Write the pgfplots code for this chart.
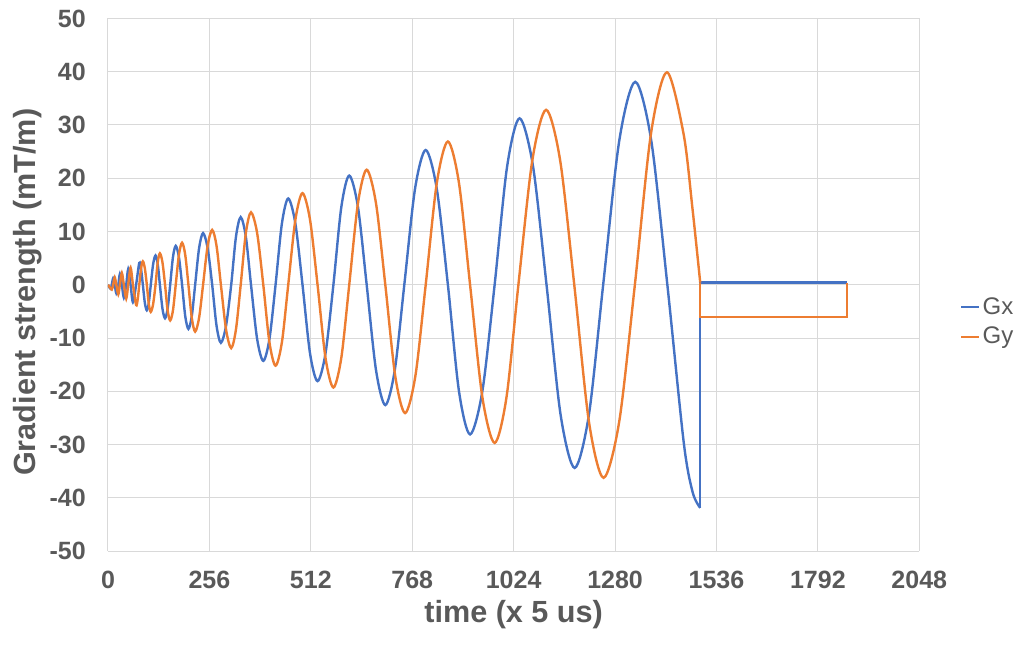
\documentclass[border=0pt]{standalone}
\usepackage{pgfplots}
\pgfplotsset{compat=1.18}
\usepackage{fontspec}
\setmainfont{Liberation Sans}

\definecolor{gxblue}{HTML}{4472C4}
\definecolor{gyorange}{HTML}{ED7D31}
\definecolor{gridgray}{HTML}{D9D9D9}
\definecolor{txtgray}{HTML}{595959}

\begin{document}
\begin{tikzpicture}
  \useasboundingbox (-54pt,-46.5pt) rectangle (458pt,275.5pt);
  \begin{axis}[
    scale only axis,
    width=405.65pt, height=266.25pt,
    xmin=0, xmax=2048,
    ymin=-50, ymax=50,
    xtick={0,256,...,2048},
    ytick={-50,-40,...,50},
    grid=major,
    major grid style={draw=gridgray, line width=0.5pt},
    axis line style={draw=none},
    tick style={draw=none},
    /pgf/number format/assume math mode=true,
    /pgf/number format/1000 sep={},
    ticklabel style={font=\bfseries\fontsize{12.5}{14}\selectfont, text=txtgray},
    xticklabel style={anchor=north, yshift=-6.3pt},
    yticklabel style={anchor=east, xshift=-7.6pt},
    xlabel={time (x 5 us)},
    ylabel={Gradient strength (mT/m)},
    label style={font=\bfseries\fontsize{15.3}{17}\selectfont, text=txtgray},
    xlabel style={at={(axis description cs:0.5,-0.1202)}, anchor=center},
    ylabel style={at={(axis description cs:-0.0986,0.486)}, anchor=center},
    legend style={at={(axis description cs:1.050,0.43)}, anchor=west,
      draw=none, fill=none, font=\fontsize{12}{14}\selectfont, text=txtgray,
      row sep=3pt, inner sep=0pt, nodes={inner sep=1pt}},
    legend cell align=left,
    legend image code/.code={\draw[#1] (0pt,0pt) -- (9pt,0pt);},
  ]
    % Gx, spiral part
    \addplot[gxblue, line width=1.2pt, smooth] coordinates {
      (0,0) (6,-0.7) (9.5,0) (13,1.2) (17,0) (21,-1.6) (26,0) (30,2.0)
      (35,0) (40,-2.4) (46,0) (51,2.9) (57,0) (63,-3.3) (71,0)
      (79,4.1) (83.5,2.9) (88,0) (93,-3.4) (98,-4.8) (103,-3.4) (108,0)
      (114,3.9) (120,5.5) (125.5,3.9) (131,0) (137.5,-4.5) (144,-6.3) (150.5,-4.5)
      (157,0) (164,5.2) (171,7.3) (179,5.2) (187,0) (195,-5.9) (203,-8.3) (211.5,-5.9)
      (220,0) (230,6.9) (240,9.7) (251.5,6.9) (263,0) (274,-7.7) (285,-10.9) (298,-7.7)
      (311,0) (323,9.0) (335,12.7) (348,9.0) (361,0) (376.5,-10.2) (392,-14.3) (407.5,-10.2)
      (423,0) (439,11.5) (455,16.2) (473,11.5) (491,0) (510,-12.9) (529,-18.1) (549,-12.9)
      (569,0) (589,14.6) (609,20.5) (631,14.6) (653,0) (676.5,-16.0) (700,-22.6) (724,-16.0)
      (748,0) (775,18.0) (802,25.3) (830,18.0) (858,0) (886,-20.0) (914,-28.1) (945,-20.0)
      (976,0) (1007.5,22.2) (1039,31.25) (1073,22.2) (1107,0) (1142.5,-24.4) (1178,-34.4)
      (1214,-24.4) (1250,0) (1290.5,27.0) (1331,38.1) (1371.5,27.0) (1412,0)
      (1453.5,-29.7) (1476,-39.0) (1495,-41.9)
    };
    \addlegendentry{Gx}
    % Gx, after the spiral
    \addplot[gxblue, line width=1.2pt, forget plot] coordinates {
      (1495,-41.9) (1495,0.4) (1866,0.4)
    };
    % Gy, spiral part
    \addplot[gyorange, line width=1.2pt, smooth] coordinates {
      (0,0) (9.5,-0.9) (13,0) (17,1.4) (21,0) (26,-1.8) (30,0) (35,2.2)
      (40,0) (46,-2.6) (51,0) (57,3.2) (63,0)
      (71,-3.8) (75,-2.7) (79,0) (83.5,3.1) (88,4.4) (93,3.1) (98,0) (103,-3.6)
      (108,-5.1) (114,-3.6) (120,0) (125.5,4.2) (131,5.9) (137.5,4.2) (144,0) (150.5,-4.8)
      (157,-6.7) (164,-4.8) (171,0) (179,5.6) (187,7.9) (195,5.6) (203,0) (211.5,-6.2)
      (220,-8.8) (230,-6.2) (240,0) (251.5,7.3) (263,10.3) (274,7.3) (285,0) (298,-8.4)
      (311,-11.9) (323,-8.4) (335,0) (348,9.7) (361,13.6) (376.5,9.7) (392,0) (407.5,-10.8)
      (423,-15.2) (439,-10.8) (455,0) (473,12.2) (491,17.2) (510,12.2) (529,0) (549,-13.7)
      (569,-19.3) (589,-13.7) (609,0) (631,15.3) (653,21.6) (676.5,15.3) (700,0) (725,-17.1)
      (750,-24.1) (776,-17.1) (802,0) (830,19.1) (858,26.9) (886,19.1) (914,0) (945,-21.1)
      (976,-29.7) (1006,-21.1) (1036,0) (1071,23.3) (1106,32.85) (1141.5,23.3) (1177,0)
      (1214,-25.7) (1251,-36.25) (1290.5,-25.7) (1330,0) (1370.5,28.3) (1411,39.9)
      (1453,28.3) (1475,14.6) (1495,0.4)
    };
    \addlegendentry{Gy}
    % Gy, after the spiral
    \addplot[gyorange, line width=1.2pt, forget plot] coordinates {
      (1495,0.4) (1495,-6.1) (1866,-6.1) (1866,0.4)
    };
  \end{axis}
\end{tikzpicture}
\end{document}
